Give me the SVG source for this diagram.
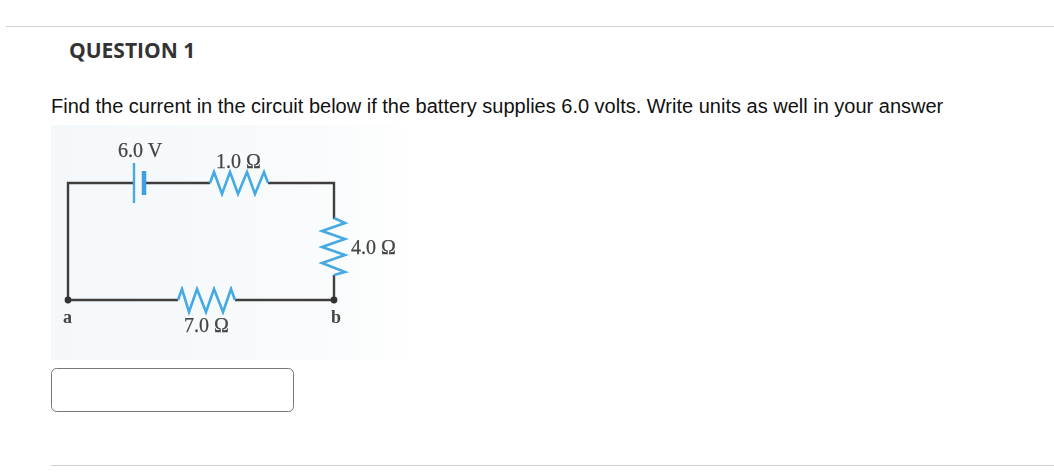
<svg xmlns="http://www.w3.org/2000/svg" width="1054" height="474" viewBox="0 0 1054 474">
<style>
.wire{fill:none;stroke:#3f3d3d;stroke-width:2.4}
.blue{fill:none;stroke:#45a9e6;stroke-width:2.6;stroke-linejoin:miter}
.lbl{font-family:"Liberation Serif",serif;font-size:20px;fill:#444444;stroke:#444444;stroke-width:0.25}
.rule{stroke:#cfcfcf;stroke-width:1}
</style>
<defs>
<linearGradient id="bg" x1="0" y1="0" x2="1" y2="0">
<stop offset="0" stop-color="#f4f8fa"/><stop offset="0.75" stop-color="#f9fbfc"/><stop offset="1" stop-color="#ffffff"/>
</linearGradient>
<filter id="soft" x="-5%" y="-5%" width="110%" height="110%"><feGaussianBlur stdDeviation="0.55"/></filter>
</defs>
<rect width="1054" height="474" fill="#ffffff"/>
<line class="rule" x1="6" y1="26.5" x2="1054" y2="26.5"/>
<text id="title" x="69" y="58" font-family="'Open Sans',sans-serif" font-weight="700" font-size="21" fill="#333333">QUESTION 1</text>
<text id="question" x="51" y="113" font-family="'Liberation Sans',Arial,sans-serif" font-size="20" fill="#111111">Find the current in the circuit below if the battery supplies 6.0 volts. Write units as well in your answer</text>
<rect id="photo" x="51" y="125" width="366" height="235" fill="url(#bg)"/>
<g id="connectors" filter="url(#soft)">
<path class="wire" d="M134 183H68V300H178"/>
<path class="wire" d="M144 183H210"/>
<path class="wire" d="M268 183H334V219"/>
<path class="wire" d="M334 275V300H235"/>
</g>
<g id="battery" filter="url(#soft)">
<line x1="134" y1="163" x2="134" y2="203" stroke="#45a9e6" stroke-width="2.4"/>
<line x1="144" y1="171" x2="144" y2="195" stroke="#3f9fe0" stroke-width="4.5"/>
<text class="lbl" x="118" y="157">6.0 V</text>
</g>
<g id="r1" filter="url(#soft)">
<polyline class="blue" points="210,183 214,172 222,194 230,172 238,194 247,172 255,194 264,172 268,183"/>
<text class="lbl" x="216" y="168">1.0 Ω</text>
</g>
<g id="r2" filter="url(#soft)">
<polyline class="blue" points="334,218 345,223 322,231 345,239 322,247 345,255 322,263 345,272 334,275"/>
<text class="lbl" x="351" y="254">4.0 Ω</text>
</g>
<g id="r3" filter="url(#soft)">
<polyline class="blue" points="178,300 182,289 189,312 197,289 206,312 214,289 223,312 231,289 235,300"/>
<text class="lbl" x="184" y="332">7.0 Ω</text>
</g>
<g id="node-a" filter="url(#soft)">
<circle cx="68" cy="300" r="3.4" fill="#333333"/>
<text class="lbl" x="63" y="323" style="font-size:18px;font-weight:700;stroke-width:0">a</text>
</g>
<g id="node-b" filter="url(#soft)">
<circle cx="334" cy="300" r="3.4" fill="#333333"/>
<text class="lbl" x="331" y="323" style="font-size:18px;font-weight:700;stroke-width:0">b</text>
</g>
<rect id="answer" x="51.5" y="368.5" width="242" height="43" rx="5" fill="#ffffff" stroke="#767676" stroke-width="1"/>
<line class="rule" x1="51" y1="465.5" x2="1054" y2="465.5"/>
</svg>
